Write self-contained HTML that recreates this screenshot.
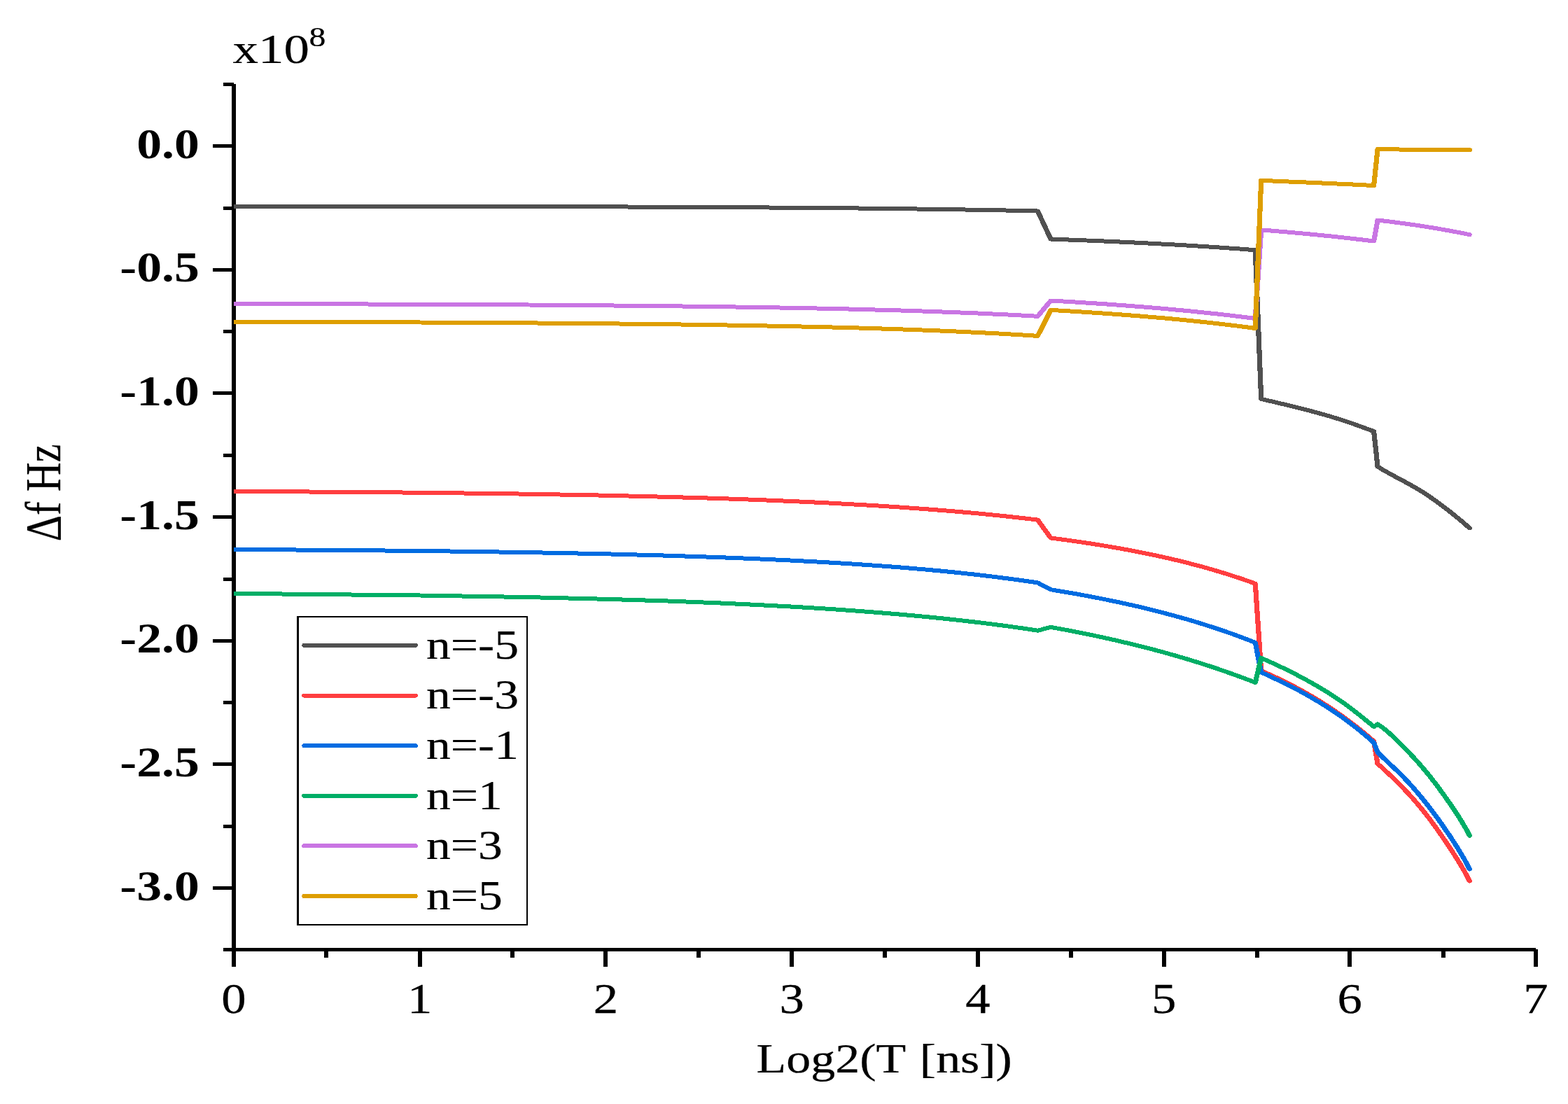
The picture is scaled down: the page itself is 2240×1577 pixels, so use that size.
<!DOCTYPE html>
<html lang="en">
<head>
<meta charset="utf-8">
<title>Δf vs Log2(T)</title>
<style>
html,body{margin:0;padding:0;background:#fff;}
body{width:2240px;height:1577px;overflow:hidden;}
svg{display:block;}
text{font-family:"Liberation Serif","DejaVu Serif",serif;}
</style>
</head>
<body>
<svg width="2240" height="1577" viewBox="0 0 2240 1577" role="img" aria-label="Frequency shift versus Log2 of T for n = -5 ... 5">
<g shape-rendering="crispEdges" fill="#000">
<rect x="331" y="120" width="6" height="1261"/>
<rect x="319" y="1354" width="1875" height="5"/>
<rect x="304" y="206" width="30" height="5"/>
<rect x="304" y="383" width="30" height="5"/>
<rect x="304" y="559" width="30" height="5"/>
<rect x="304" y="736" width="30" height="5"/>
<rect x="304" y="913" width="30" height="5"/>
<rect x="304" y="1089" width="30" height="5"/>
<rect x="304" y="1266" width="30" height="5"/>
<rect x="319" y="118" width="15" height="5"/>
<rect x="319" y="295" width="15" height="5"/>
<rect x="319" y="471" width="15" height="5"/>
<rect x="319" y="648" width="15" height="5"/>
<rect x="319" y="825" width="15" height="5"/>
<rect x="319" y="1001" width="15" height="5"/>
<rect x="319" y="1178" width="15" height="5"/>
<rect x="597" y="1356" width="6" height="25"/>
<rect x="862" y="1356" width="6" height="25"/>
<rect x="1128" y="1356" width="6" height="25"/>
<rect x="1394" y="1356" width="6" height="25"/>
<rect x="1660" y="1356" width="6" height="25"/>
<rect x="1925" y="1356" width="6" height="25"/>
<rect x="2191" y="1356" width="6" height="25"/>
<rect x="463" y="1356" width="6" height="12"/>
<rect x="729" y="1356" width="6" height="12"/>
<rect x="995" y="1356" width="6" height="12"/>
<rect x="1261" y="1356" width="6" height="12"/>
<rect x="1527" y="1356" width="6" height="12"/>
<rect x="1793" y="1356" width="6" height="12"/>
<rect x="2059" y="1356" width="6" height="12"/>
</g>
<clipPath id="plot"><rect x="334.00" y="0" width="2000" height="1577"/></clipPath>
<g clip-path="url(#plot)"><g transform="scale(1.2,1)" shape-rendering="crispEdges">
<polyline points="278.33,294.5 499.76,294.8 629.29,295.1 721.19,295.4 792.47,295.7 850.72,296.0 899.96,296.4 942.62,296.7 980.24,297.1 1013.90,297.4 1044.35,297.8 1072.15,298.2 1097.72,298.6 1121.39,299.0 1143.43,299.4 1164.05,299.8 1183.41,300.2 1201.67,300.6 1218.94,301.1 1235.33,301.5 1250.92,341.6 1265.78,342.2 1279.98,342.9 1293.57,343.5 1306.61,344.1 1319.14,344.8 1331.20,345.4 1342.82,346.1 1354.03,346.7 1364.86,347.4 1375.33,348.0 1385.47,348.7 1395.31,349.3 1404.84,350.0 1414.10,350.6 1423.10,351.3 1431.85,352.0 1440.37,352.6 1448.67,353.3 1456.76,353.9 1464.65,354.6 1472.35,355.2 1479.86,355.9 1487.21,356.6 1494.39,357.2 1501.41,569.9 1508.28,571.8 1515.00,573.7 1521.59,575.6 1528.04,577.4 1534.37,579.3 1540.57,581.1 1546.66,582.9 1552.63,584.7 1558.49,586.5 1564.25,588.3 1569.90,590.2 1575.46,592.0 1580.92,593.9 1586.29,595.8 1591.57,597.8 1596.76,599.7 1601.87,601.8 1606.90,603.8 1611.86,605.8 1616.73,607.9 1621.54,610.0 1626.27,612.1 1630.93,614.1 1635.53,616.2 1640.06,666.5 1644.53,669.8 1648.94,672.9 1653.28,675.8 1657.57,678.6 1661.80,681.4 1665.98,684.1 1670.10,686.7 1674.17,689.3 1678.19,692.0 1682.16,694.7 1686.08,697.4 1689.95,700.2 1693.77,703.0 1697.55,706.0 1701.29,709.0 1704.98,712.0 1708.63,715.1 1712.24,718.2 1715.81,721.4 1719.34,724.6 1722.83,727.8 1726.29,731.0 1729.71,734.3 1733.09,737.6 1736.43,740.9 1739.74,744.2 1743.02,747.5 1746.26,750.9 1749.47,754.3" fill="none" stroke="#505050" stroke-width="6.0" stroke-linejoin="round" stroke-linecap="round"/>
<polyline points="278.33,701.7 499.76,703.7 629.29,705.7 721.19,707.7 792.47,709.8 850.72,711.8 899.96,713.9 942.62,716.0 980.24,718.1 1013.90,720.3 1044.35,722.4 1072.15,724.6 1097.72,726.8 1121.39,729.0 1143.43,731.2 1164.05,733.4 1183.41,735.7 1201.67,738.0 1218.94,740.3 1235.33,742.6 1250.92,768.5 1265.78,770.8 1279.98,773.2 1293.57,775.6 1306.61,778.0 1319.14,780.5 1331.20,783.0 1342.82,785.5 1354.03,788.1 1364.86,790.7 1375.33,793.3 1385.47,796.0 1395.31,798.7 1404.84,801.4 1414.10,804.2 1423.10,807.0 1431.85,809.8 1440.37,812.7 1448.67,815.6 1456.76,818.5 1464.65,821.5 1472.35,824.5 1479.86,827.5 1487.21,830.6 1494.39,833.7 1501.41,958.2 1508.28,961.8 1515.00,965.4 1521.59,969.1 1528.04,972.9 1534.37,976.7 1540.57,980.5 1546.66,984.5 1552.63,988.4 1558.49,992.4 1564.25,996.5 1569.90,1000.6 1575.46,1004.8 1580.92,1009.0 1586.29,1013.3 1591.57,1017.6 1596.76,1022.0 1601.87,1026.4 1606.90,1030.9 1611.86,1035.4 1616.73,1040.0 1621.54,1044.7 1626.27,1049.4 1630.93,1054.1 1635.53,1058.9 1640.06,1091.1 1644.53,1095.7 1648.94,1100.6 1653.28,1105.4 1657.57,1110.3 1661.80,1115.2 1665.98,1120.2 1670.10,1125.3 1674.17,1130.4 1678.19,1135.6 1682.16,1140.9 1686.08,1146.3 1689.95,1151.8 1693.77,1157.4 1697.55,1163.0 1701.29,1168.8 1704.98,1174.8 1708.63,1180.8 1712.24,1186.9 1715.81,1193.0 1719.34,1199.2 1722.83,1205.4 1726.29,1211.6 1729.71,1217.9 1733.09,1224.2 1736.43,1230.6 1739.74,1237.1 1743.02,1243.9 1746.26,1250.9 1749.47,1258.5" fill="none" stroke="#ff3e40" stroke-width="6.0" stroke-linejoin="round" stroke-linecap="round"/>
<polyline points="278.33,784.8 499.76,786.9 629.29,789.1 721.19,791.3 792.47,793.6 850.72,795.9 899.96,798.2 942.62,800.6 980.24,803.0 1013.90,805.5 1044.35,808.0 1072.15,810.5 1097.72,813.1 1121.39,815.7 1143.43,818.4 1164.05,821.1 1183.41,823.9 1201.67,826.7 1218.94,829.5 1235.33,832.4 1250.92,842.2 1265.78,845.2 1279.98,848.1 1293.57,851.1 1306.61,854.1 1319.14,857.1 1331.20,860.1 1342.82,863.2 1354.03,866.2 1364.86,869.3 1375.33,872.4 1385.47,875.6 1395.31,878.7 1404.84,881.9 1414.10,885.0 1423.10,888.2 1431.85,891.5 1440.37,894.7 1448.67,898.0 1456.76,901.2 1464.65,904.5 1472.35,907.9 1479.86,911.2 1487.21,914.6 1494.39,917.9 1501.41,960.3 1508.28,964.1 1515.00,967.9 1521.59,971.6 1528.04,975.3 1534.37,979.0 1540.57,982.8 1546.66,986.7 1552.63,990.6 1558.49,994.6 1564.25,998.6 1569.90,1002.6 1575.46,1006.7 1580.92,1010.9 1586.29,1015.1 1591.57,1019.4 1596.76,1023.7 1601.87,1028.1 1606.90,1032.6 1611.86,1037.1 1616.73,1041.7 1621.54,1046.4 1626.27,1051.1 1630.93,1055.9 1635.53,1060.9 1640.06,1074.6 1644.53,1079.9 1648.94,1085.0 1653.28,1089.9 1657.57,1094.7 1661.80,1099.5 1665.98,1104.3 1670.10,1109.3 1674.17,1114.4 1678.19,1119.6 1682.16,1124.9 1686.08,1130.3 1689.95,1135.8 1693.77,1141.4 1697.55,1147.0 1701.29,1152.7 1704.98,1158.5 1708.63,1164.4 1712.24,1170.4 1715.81,1176.4 1719.34,1182.5 1722.83,1188.6 1726.29,1194.7 1729.71,1200.9 1733.09,1207.2 1736.43,1213.6 1739.74,1220.2 1743.02,1226.9 1746.26,1233.9 1749.47,1241.5" fill="none" stroke="#006ce1" stroke-width="6.0" stroke-linejoin="round" stroke-linecap="round"/>
<polyline points="278.33,847.8 499.76,850.5 629.29,853.1 721.19,855.8 792.47,858.4 850.72,861.1 899.96,863.9 942.62,866.6 980.24,869.3 1013.90,872.1 1044.35,874.9 1072.15,877.7 1097.72,880.5 1121.39,883.3 1143.43,886.2 1164.05,889.0 1183.41,891.9 1201.67,894.8 1218.94,897.7 1235.33,900.7 1250.92,895.9 1265.78,899.1 1279.98,902.4 1293.57,905.7 1306.61,908.9 1319.14,912.2 1331.20,915.5 1342.82,918.8 1354.03,922.1 1364.86,925.3 1375.33,928.6 1385.47,931.9 1395.31,935.2 1404.84,938.5 1414.10,941.8 1423.10,945.1 1431.85,948.4 1440.37,951.7 1448.67,955.0 1456.76,958.4 1464.65,961.7 1472.35,965.0 1479.86,968.3 1487.21,971.6 1494.39,975.0 1501.41,939.9 1508.28,943.6 1515.00,947.2 1521.59,950.9 1528.04,954.5 1534.37,958.2 1540.57,962.0 1546.66,965.8 1552.63,969.6 1558.49,973.5 1564.25,977.4 1569.90,981.3 1575.46,985.3 1580.92,989.3 1586.29,993.4 1591.57,997.6 1596.76,1001.8 1601.87,1006.2 1606.90,1010.7 1611.86,1015.2 1616.73,1019.8 1621.54,1024.4 1626.27,1029.0 1630.93,1033.5 1635.53,1038.1 1640.06,1034.4 1644.53,1038.1 1648.94,1042.2 1653.28,1046.6 1657.57,1051.3 1661.80,1056.2 1665.98,1061.2 1670.10,1066.1 1674.17,1071.0 1678.19,1076.0 1682.16,1081.1 1686.08,1086.2 1689.95,1091.4 1693.77,1096.7 1697.55,1102.1 1701.29,1107.6 1704.98,1113.2 1708.63,1118.9 1712.24,1124.6 1715.81,1130.5 1719.34,1136.4 1722.83,1142.3 1726.29,1148.2 1729.71,1154.2 1733.09,1160.3 1736.43,1166.5 1739.74,1172.8 1743.02,1179.4 1746.26,1186.2 1749.47,1193.8" fill="none" stroke="#00ae66" stroke-width="6.0" stroke-linejoin="round" stroke-linecap="round"/>
<polyline points="278.33,434.0 499.76,434.7 629.29,435.5 721.19,436.4 792.47,437.2 850.72,438.1 899.96,438.9 942.62,439.8 980.24,440.7 1013.90,441.6 1044.35,442.6 1072.15,443.5 1097.72,444.5 1121.39,445.5 1143.43,446.5 1164.05,447.5 1183.41,448.6 1201.67,449.6 1218.94,450.7 1235.33,451.8 1250.92,429.5 1265.78,430.5 1279.98,431.5 1293.57,432.6 1306.61,433.6 1319.14,434.6 1331.20,435.7 1342.82,436.7 1354.03,437.8 1364.86,438.8 1375.33,439.9 1385.47,440.9 1395.31,442.0 1404.84,443.1 1414.10,444.1 1423.10,445.2 1431.85,446.3 1440.37,447.4 1448.67,448.4 1456.76,449.5 1464.65,450.6 1472.35,451.7 1479.86,452.8 1487.21,453.9 1494.39,455.0 1501.41,328.4 1508.28,329.1 1515.00,329.7 1521.59,330.4 1528.04,331.0 1534.37,331.7 1540.57,332.4 1546.66,333.0 1552.63,333.7 1558.49,334.4 1564.25,335.0 1569.90,335.7 1575.46,336.4 1580.92,337.0 1586.29,337.7 1591.57,338.4 1596.76,339.1 1601.87,339.7 1606.90,340.4 1611.86,341.1 1616.73,341.8 1621.54,342.4 1626.27,343.1 1630.93,343.8 1635.53,344.5 1640.06,314.5 1644.53,315.1 1648.94,315.8 1653.28,316.4 1657.57,317.0 1661.80,317.7 1665.98,318.4 1670.10,319.0 1674.17,319.7 1678.19,320.4 1682.16,321.1 1686.08,321.7 1689.95,322.4 1693.77,323.1 1697.55,323.8 1701.29,324.6 1704.98,325.3 1708.63,326.0 1712.24,326.7 1715.81,327.5 1719.34,328.2 1722.83,329.0 1726.29,329.7 1729.71,330.5 1733.09,331.3 1736.43,332.0 1739.74,332.8 1743.02,333.6 1746.26,334.4 1749.47,335.2" fill="none" stroke="#c975e3" stroke-width="6.0" stroke-linejoin="round" stroke-linecap="round"/>
<polyline points="278.33,459.6 499.76,460.5 629.29,461.4 721.19,462.3 792.47,463.2 850.72,464.2 899.96,465.2 942.62,466.2 980.24,467.2 1013.90,468.2 1044.35,469.3 1072.15,470.4 1097.72,471.5 1121.39,472.6 1143.43,473.8 1164.05,475.0 1183.41,476.1 1201.67,477.4 1218.94,478.6 1235.33,479.9 1250.92,442.9 1265.78,443.9 1279.98,444.9 1293.57,446.0 1306.61,447.0 1319.14,448.1 1331.20,449.1 1342.82,450.2 1354.03,451.2 1364.86,452.3 1375.33,453.4 1385.47,454.4 1395.31,455.5 1404.84,456.6 1414.10,457.7 1423.10,458.8 1431.85,459.9 1440.37,461.0 1448.67,462.1 1456.76,463.3 1464.65,464.4 1472.35,465.5 1479.86,466.7 1487.21,467.8 1494.39,469.0 1501.41,257.9 1508.28,258.2 1515.00,258.5 1521.59,258.8 1528.04,259.2 1534.37,259.5 1540.57,259.8 1546.66,260.1 1552.63,260.4 1558.49,260.7 1564.25,261.0 1569.90,261.3 1575.46,261.6 1580.92,261.9 1586.29,262.2 1591.57,262.5 1596.76,262.8 1601.87,263.0 1606.90,263.3 1611.86,263.6 1616.73,263.9 1621.54,264.2 1626.27,264.5 1630.93,264.7 1635.53,265.0 1640.06,213.3 1644.53,213.3 1648.94,213.4 1653.28,213.4 1657.57,213.4 1661.80,213.4 1665.98,213.5 1670.10,213.5 1674.17,213.5 1678.19,213.5 1682.16,213.6 1686.08,213.6 1689.95,213.6 1693.77,213.7 1697.55,213.7 1701.29,213.7 1704.98,213.7 1708.63,213.8 1712.24,213.8 1715.81,213.8 1719.34,213.9 1722.83,213.9 1726.29,213.9 1729.71,213.9 1733.09,214.0 1736.43,214.0 1739.74,214.0 1743.02,214.0 1746.26,214.1 1749.47,214.1" fill="none" stroke="#de9e00" stroke-width="6.0" stroke-linejoin="round" stroke-linecap="round"/>
</g></g>
<g shape-rendering="crispEdges" fill="#000">
<rect x="424" y="880" width="330" height="2"/>
<rect x="424" y="1320" width="330" height="2"/>
<rect x="424" y="880" width="3" height="442"/>
<rect x="752" y="880" width="2" height="442"/>
</g>
<line x1="434.3" y1="921.90" x2="593.8" y2="921.90" stroke="#505050" stroke-width="6" stroke-linecap="round" shape-rendering="crispEdges"/>
<line x1="434.3" y1="993.52" x2="593.8" y2="993.52" stroke="#ff3e40" stroke-width="6" stroke-linecap="round" shape-rendering="crispEdges"/>
<line x1="434.3" y1="1065.14" x2="593.8" y2="1065.14" stroke="#006ce1" stroke-width="6" stroke-linecap="round" shape-rendering="crispEdges"/>
<line x1="434.3" y1="1136.76" x2="593.8" y2="1136.76" stroke="#00ae66" stroke-width="6" stroke-linecap="round" shape-rendering="crispEdges"/>
<line x1="434.3" y1="1208.38" x2="593.8" y2="1208.38" stroke="#c975e3" stroke-width="6" stroke-linecap="round" shape-rendering="crispEdges"/>
<line x1="434.3" y1="1280.00" x2="593.8" y2="1280.00" stroke="#de9e00" stroke-width="6" stroke-linecap="round" shape-rendering="crispEdges"/>
<g font-family="'Liberation Serif', 'DejaVu Serif', serif" fill="#000">
<text transform="translate(609.00,940.80) scale(1.1800,1.0000)" font-size="59" font-weight="normal" text-anchor="start" stroke="#000" stroke-width="0.25" stroke-linejoin="round">n=-5</text>
<text transform="translate(609.00,1012.42) scale(1.1800,1.0000)" font-size="59" font-weight="normal" text-anchor="start" stroke="#000" stroke-width="0.25" stroke-linejoin="round">n=-3</text>
<text transform="translate(609.00,1084.04) scale(1.1800,1.0000)" font-size="59" font-weight="normal" text-anchor="start" stroke="#000" stroke-width="0.25" stroke-linejoin="round">n=-1</text>
<text transform="translate(609.00,1155.66) scale(1.1800,1.0000)" font-size="59" font-weight="normal" text-anchor="start" stroke="#000" stroke-width="0.25" stroke-linejoin="round">n=1</text>
<text transform="translate(609.00,1227.28) scale(1.1800,1.0000)" font-size="59" font-weight="normal" text-anchor="start" stroke="#000" stroke-width="0.25" stroke-linejoin="round">n=3</text>
<text transform="translate(609.00,1298.90) scale(1.1800,1.0000)" font-size="59" font-weight="normal" text-anchor="start" stroke="#000" stroke-width="0.25" stroke-linejoin="round">n=5</text>
<text transform="translate(284.75,225.55) scale(1.1800,1.0000)" font-size="60.75" font-weight="bold" text-anchor="end">0.0</text>
<text transform="translate(284.75,402.22) scale(1.1800,1.0000)" font-size="60.75" font-weight="bold" text-anchor="end">-0.5</text>
<text transform="translate(284.75,578.88) scale(1.1800,1.0000)" font-size="60.75" font-weight="bold" text-anchor="end">-1.0</text>
<text transform="translate(284.75,755.55) scale(1.1800,1.0000)" font-size="60.75" font-weight="bold" text-anchor="end">-1.5</text>
<text transform="translate(284.75,932.22) scale(1.1800,1.0000)" font-size="60.75" font-weight="bold" text-anchor="end">-2.0</text>
<text transform="translate(284.75,1108.88) scale(1.1800,1.0000)" font-size="60.75" font-weight="bold" text-anchor="end">-2.5</text>
<text transform="translate(284.75,1285.55) scale(1.1800,1.0000)" font-size="60.75" font-weight="bold" text-anchor="end">-3.0</text>
<text transform="translate(334.00,1447.40) scale(1.1700,1.0000)" font-size="60.5" font-weight="normal" text-anchor="middle" stroke="#000" stroke-width="0.25" stroke-linejoin="round">0</text>
<text transform="translate(599.71,1447.40) scale(1.1700,1.0000)" font-size="60.5" font-weight="normal" text-anchor="middle" stroke="#000" stroke-width="0.25" stroke-linejoin="round">1</text>
<text transform="translate(865.43,1447.40) scale(1.1700,1.0000)" font-size="60.5" font-weight="normal" text-anchor="middle" stroke="#000" stroke-width="0.25" stroke-linejoin="round">2</text>
<text transform="translate(1131.14,1447.40) scale(1.1700,1.0000)" font-size="60.5" font-weight="normal" text-anchor="middle" stroke="#000" stroke-width="0.25" stroke-linejoin="round">3</text>
<text transform="translate(1396.86,1447.40) scale(1.1700,1.0000)" font-size="60.5" font-weight="normal" text-anchor="middle" stroke="#000" stroke-width="0.25" stroke-linejoin="round">4</text>
<text transform="translate(1662.57,1447.40) scale(1.1700,1.0000)" font-size="60.5" font-weight="normal" text-anchor="middle" stroke="#000" stroke-width="0.25" stroke-linejoin="round">5</text>
<text transform="translate(1928.28,1447.40) scale(1.1700,1.0000)" font-size="60.5" font-weight="normal" text-anchor="middle" stroke="#000" stroke-width="0.25" stroke-linejoin="round">6</text>
<text transform="translate(2194.00,1447.40) scale(1.1700,1.0000)" font-size="60.5" font-weight="normal" text-anchor="middle" stroke="#000" stroke-width="0.25" stroke-linejoin="round">7</text>
<text transform="translate(1080.60,1532.00) scale(1.1796,1.0000)" font-size="59.3" font-weight="normal" text-anchor="start" stroke="#000" stroke-width="0.25" stroke-linejoin="round" word-spacing="2.9">Log2(T [ns])</text>
<text transform="translate(332.60,90.20) scale(1.2150,1.0000)" font-size="60" font-weight="normal" text-anchor="start" stroke="#000" stroke-width="0.25" stroke-linejoin="round">x10</text>
<text transform="translate(441.50,65.60) scale(1.2000,1.0000)" font-size="39.8" font-weight="normal" text-anchor="start" stroke="#000" stroke-width="0.25" stroke-linejoin="round">8</text>
<text transform="translate(86.05,773.30) scale(1.2530,1) rotate(-90)" font-size="58" stroke="#000" stroke-width="0.25" stroke-linejoin="round">Δf Hz</text>
</g>
</svg>
</body>
</html>
